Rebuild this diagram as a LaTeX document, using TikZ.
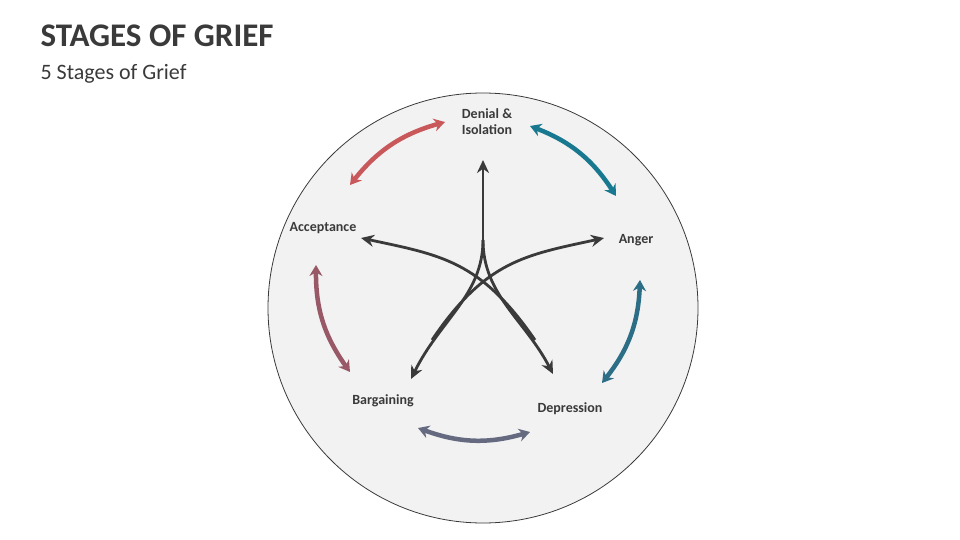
\documentclass[tikz,border=0pt]{standalone}
\usepackage{fontspec}
\setmainfont{Carlito}
\usetikzlibrary{arrows.meta}
\definecolor{cred}{HTML}{C9585B}
\definecolor{cteal}{HTML}{17788F}
\definecolor{cteal2}{HTML}{2C6E86}
\definecolor{cslate}{HTML}{666A80}
\definecolor{cmauve}{HTML}{985866}
\definecolor{cdark}{HTML}{3A3A3A}
\tikzset{
 lbl/.style={font=\bfseries\fontsize{14}{16}\selectfont, text=cdark, align=center},
 cyc/.style={line width=4.5pt, {Stealth[length=11pt,width=13pt]}-{Stealth[length=11pt,width=13pt]}},
 ctr/.style={line width=2.8pt, draw=cdark, -{Stealth[length=13pt,width=12pt]}}
}
\begin{document}
\begin{tikzpicture}[x=1pt,y=-1pt]
\useasboundingbox (0,0) rectangle (960,540);
\node[anchor=west,font=\bfseries\fontsize{33}{36}\selectfont,text=cdark] (title) at (37,36) {STAGES OF GRIEF};
\node[anchor=west,font=\fontsize{22}{25}\selectfont,text=cdark] (sub) at (37,74) {5 Stages of Grief};
\node[circle,draw=cdark,line width=0.8pt,fill=black!5,minimum size=430pt] (circ) at (483,308) {};
\node[lbl] (den) at (487,122) {Denial \&\\Isolation};
\node[lbl] (ang) at (636,240) {Anger};
\node[lbl] (dep) at (570,409) {Depression};
\node[lbl] (bar) at (383,401) {Bargaining};
\node[lbl] (acc) at (323,228) {Acceptance};
% cycle arrows
\coordinate (a1) at (445,122); \coordinate (a2) at (350,185);
\coordinate (b1) at (530,126); \coordinate (b2) at (616,196);
\coordinate (c1) at (640,280); \coordinate (c2) at (602,383);
\coordinate (d1) at (418,428); \coordinate (d2) at (530,432);
\coordinate (e1) at (316,265); \coordinate (e2) at (350,372);
\draw[cyc,cred] (a1) to[bend right=18] (a2);
\draw[cyc,cteal] (b1) to[bend left=18] (b2);
\draw[cyc,cteal2] (c1) to[bend left=18] (c2);
\draw[cyc,cslate] (d1) to[bend right=18] (d2);
\draw[cyc,cmauve] (e1) to[bend right=18] (e2);
% central arrows
\coordinate (J) at (483,240);
\coordinate (tden) at (483,160);
\coordinate (tdep) at (553,374);
\coordinate (tbar) at (411,379);
\coordinate (tacc) at (361,238);
\coordinate (tang) at (604,238);
\coordinate (sacc) at (535,340);
\coordinate (sang) at (432,340);
\draw[ctr] (J) -- (tden);
\draw[ctr] (J) .. controls (483,295) and (525,320) .. (tdep);
\draw[ctr] (J) .. controls (483,295) and (440,320) .. (tbar);
\draw[ctr] (sacc) .. controls (480,260) and (440,255) .. (tacc);
\draw[ctr] (sang) .. controls (486,260) and (526,255) .. (tang);
\end{tikzpicture}
\end{document}
